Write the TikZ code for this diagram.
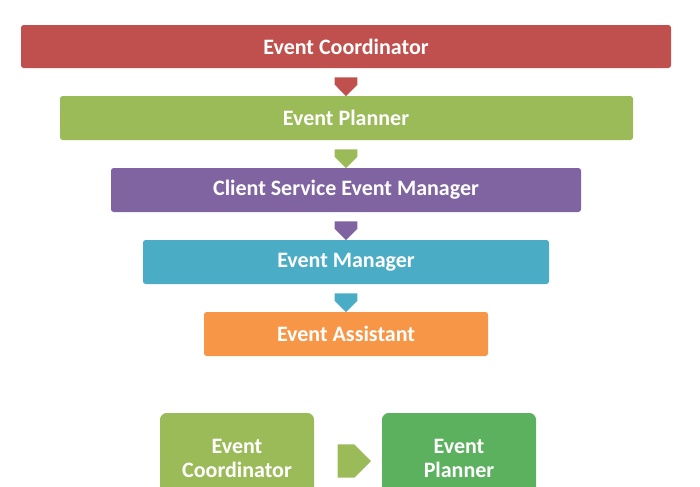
\documentclass[tikz,border=0pt]{standalone}
\usepackage{fontspec}
\setmainfont{Carlito}
\usetikzlibrary{shapes.arrows}
\definecolor{cred}{HTML}{C0504D}
\definecolor{cgreen}{HTML}{9BBB59}
\definecolor{cpurple}{HTML}{8064A2}
\definecolor{cteal}{HTML}{4BACC6}
\definecolor{corange}{HTML}{F79646}
\definecolor{cgreen2}{HTML}{5CB15F}
\tikzset{
  bar/.style={rounded corners=2pt,text=white,font=\bfseries\fontsize{16.5}{18}\selectfont,inner sep=0pt},
  darr/.style={single arrow,shape border rotate=270,minimum width=17pt,single arrow head extend=0pt,minimum height=14pt,inner sep=2.5pt,draw=none},
}
\begin{document}
\begin{tikzpicture}[x=0.75pt,y=-0.75pt]
\useasboundingbox (0,0) rectangle (700,486);
\clip (0,0) rectangle (700,486);
\fill[cred,rounded corners=2pt] (21,25) rectangle (671,68);
\node[bar] (a) at (346,46.5) {Event Coordinator};
\fill[cgreen,rounded corners=2pt] (60,96) rectangle (633,140);
\node[bar] (b) at (346,118) {Event Planner};
\fill[cpurple,rounded corners=2pt] (111,168) rectangle (581,212);
\node[bar] (c) at (346,190) {Client Service Event Manager};
\fill[cteal,rounded corners=2pt] (143,240) rectangle (549,284);
\node[bar] (d) at (346,262) {Event Manager};
\fill[corange,rounded corners=2pt] (204,312) rectangle (488,356);
\node[bar] (e) at (346,334) {Event Assistant};
\node[darr,fill=cred] (a1) at (346,81) {};
\node[darr,fill=cgreen] (b1) at (346,153) {};
\node[darr,fill=cpurple] (c1) at (346,225) {};
\node[darr,fill=cteal] (d1) at (346,297) {};
\fill[cgreen,rounded corners=5pt] (160,413) rectangle (314,500);
\node[bar,align=center] (f) at (237,458) {Event\\Coordinator};
\fill[cgreen2,rounded corners=5pt] (382,413) rectangle (536,500);
\node[bar,align=center] (g) at (459,458) {Event\\Planner};
\node[single arrow,fill=cgreen,minimum width=25pt,single arrow head extend=0pt,minimum height=25pt,inner sep=3pt] (h) at (346,461) {};
\end{tikzpicture}
\end{document}
